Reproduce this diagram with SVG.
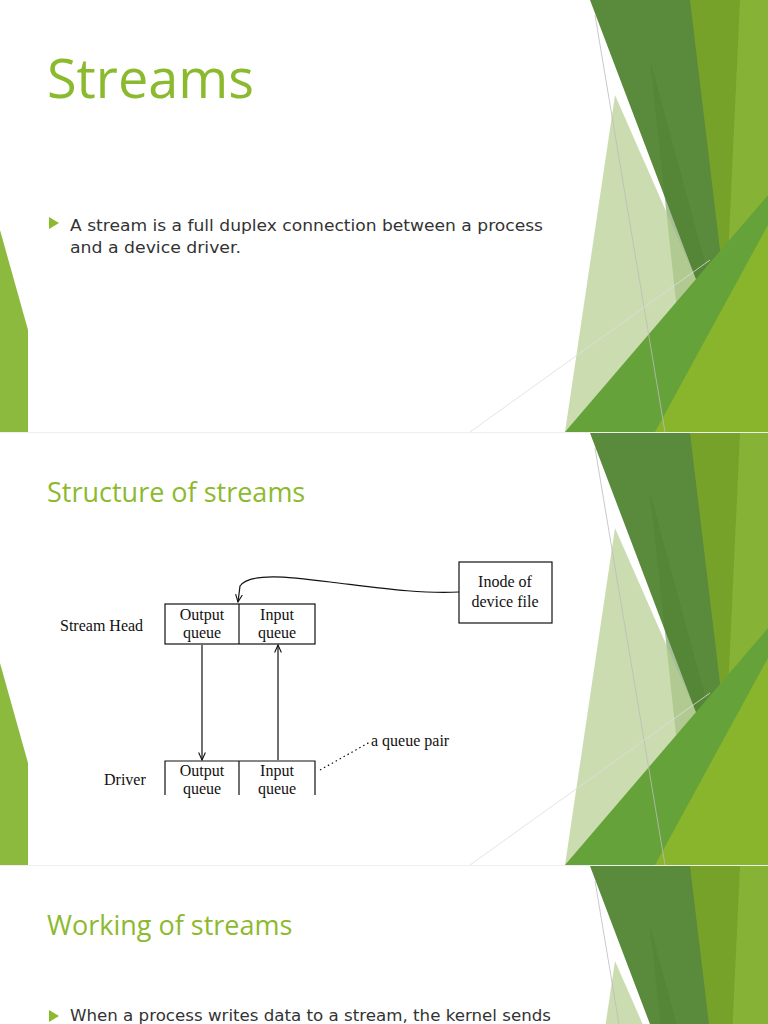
<svg xmlns="http://www.w3.org/2000/svg" width="768" height="1024" viewBox="0 0 768 1024">
<defs>
<style>
.title{font-family:"Open Sans","Liberation Sans",sans-serif;fill:#8cba2e}
.body{font-family:"DejaVu Sans","Liberation Sans",sans-serif;fill:#333;font-size:16px}
.d{font-family:"Liberation Serif",serif;fill:#111;font-size:16px}
.box{fill:#fff;stroke:#111;stroke-width:1.2}
.ln{fill:none;stroke:#111;stroke-width:1.2}
</style>
<marker id="ah" viewBox="0 0 10 10" refX="9" refY="5" markerWidth="7" markerHeight="7" orient="auto"><path d="M0,1 L9,5 L0,9" fill="none" stroke="#111" stroke-width="1.3"/></marker>
<g id="deco">
<polygon points="590,0 768,0 768,432 705,432 700,290" fill="#5a8a3c"/>
<polygon points="690,0 768,0 768,432 700,432 720,250" fill="#77a22a"/>
<polygon points="740,0 768,0 768,432 720,432" fill="#8ab83a" opacity="0.8"/>
<polygon points="650,60 715,300 690,432" fill="#4f7f32" opacity="0.5"/>
<polygon points="615,95 705,300 700,432 565,432" fill="#b5cf8e" opacity="0.7"/>
<polygon points="565,432 768,195 768,432" fill="#66a23a"/>
<polygon points="655,432 768,225 768,432" fill="#88b52c"/>
<polygon points="0,230 28,330 28,432 0,432" fill="#8cba3e"/>
<line x1="595" y1="15" x2="665" y2="432" stroke="#bbb" stroke-width="0.8"/>
<line x1="470" y1="432" x2="710" y2="260" stroke="#ddd" stroke-width="0.8"/>
</g>
</defs>
<rect width="768" height="1024" fill="#fff"/>
<use href="#deco"/>
<use href="#deco" y="433"/>
<use href="#deco" y="866"/>
<line x1="0" y1="432.5" x2="768" y2="432.5" stroke="#eee"/>
<line x1="0" y1="865.5" x2="768" y2="865.5" stroke="#eee"/>
<rect x="0" y="866" width="540" height="158" fill="#fff"/>

<text class="title" x="47" y="98" font-size="54">Streams</text>
<polygon points="49,217 49,229 59,223" fill="#8cba2e"/>
<text class="body" x="70" y="231" textLength="473" lengthAdjust="spacingAndGlyphs">A stream is a full duplex connection between a process</text>
<text class="body" x="70" y="253" textLength="171" lengthAdjust="spacingAndGlyphs">and a device driver.</text>

<text class="title" x="47" y="502" font-size="27">Structure of streams</text>

<g id="inode"><rect class="box" x="459" y="562" width="93" height="61"/><text class="d" x="505" y="587" text-anchor="middle">Inode of</text><text class="d" x="505" y="607" text-anchor="middle">device file</text></g>
<g id="head"><text class="d" x="60" y="631">Stream Head</text><rect class="box" x="165" y="604" width="150" height="40"/><line class="ln" x1="239" y1="604" x2="239" y2="644"/><text class="d" x="202" y="620" text-anchor="middle">Output</text><text class="d" x="202" y="638" text-anchor="middle">queue</text><text class="d" x="277" y="620" text-anchor="middle">Input</text><text class="d" x="277" y="638" text-anchor="middle">queue</text></g>
<g id="driver"><text class="d" x="104" y="785">Driver</text><path class="ln" d="M165,795 V761 H315 V795 M239,761 V795"/><text class="d" x="202" y="776" text-anchor="middle">Output</text><text class="d" x="202" y="794" text-anchor="middle">queue</text><text class="d" x="277" y="776" text-anchor="middle">Input</text><text class="d" x="277" y="794" text-anchor="middle">queue</text></g>
<g id="pair"><text class="d" x="371" y="746">a queue pair</text></g>
<g id="connectors">
<path class="ln" d="M459,592 C420,594 380,588 330,582 C290,577 250,572 240,586 L238,602" marker-end="url(#ah)"/>
<line class="ln" x1="202" y1="645" x2="202" y2="760" marker-end="url(#ah)"/>
<line class="ln" x1="278" y1="760" x2="278" y2="645" marker-end="url(#ah)"/>
<line class="ln" x1="320" y1="770" x2="370" y2="742" stroke-dasharray="1.5,3"/>
</g>

<text class="title" x="47" y="935" font-size="27">Working of streams</text>
<polygon points="49,1010 49,1022 59,1016" fill="#8cba2e"/>
<text class="body" x="70" y="1021" textLength="481" lengthAdjust="spacingAndGlyphs">When a process writes data to a stream, the kernel sends</text>
</svg>
